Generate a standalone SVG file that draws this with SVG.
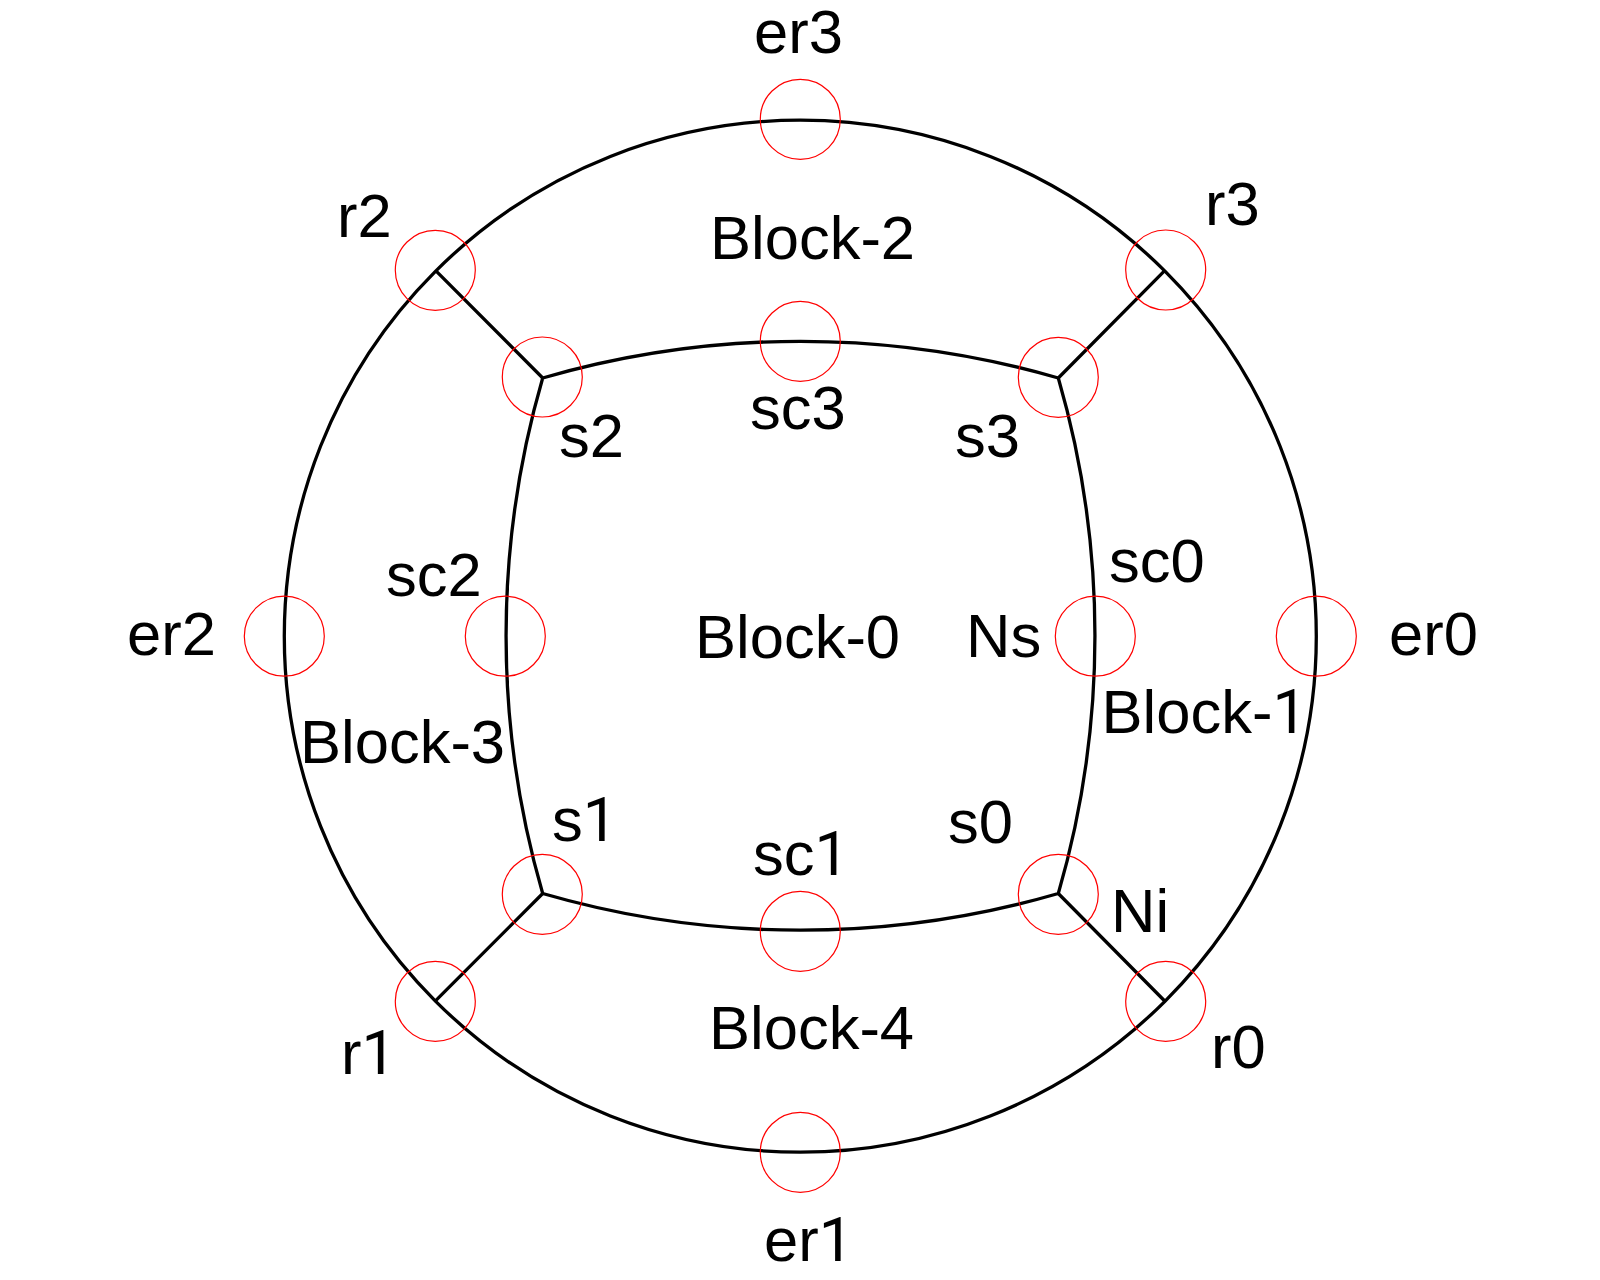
<svg xmlns="http://www.w3.org/2000/svg" width="1600" height="1280" viewBox="0 0 1600 1280">
<style>
.l{fill:none;stroke:#000;stroke-width:3.300}
.c{fill:none;stroke:#f00;stroke-width:1.200}
text{font-family:"Liberation Sans",Arial,sans-serif;font-size:61.500px;fill:#000}
.n{font-family:Roboto,"Liberation Sans",sans-serif}
</style>
<rect width="1600" height="1280" fill="#fff"/>
<g id="connectors">
<circle class="l" cx="800.300" cy="636.200" r="516"/>
<path class="l" d="M542.700 378A924 924 0 0 1 1058.300 378A925 925 0 0 1 1058.300 893.500A924 924 0 0 1 542.700 893.500A925 925 0 0 1 542.700 378Z"/>
<path class="l" d="M542.700 378L435.700 270.700M1058.300 378L1164.700 270.700M1058.300 893.500L1164.700 1001M542.700 893.500L435.700 1000.700"/>
</g>
<g id="er3"><circle class="c" cx="800.300" cy="119.300" r="40"/><text x="754" y="53">er3</text></g>
<g id="er0"><circle class="c" cx="1316.300" cy="636.200" r="40"/><text x="1389" y="655">er0</text></g>
<g id="er1"><circle class="c" cx="800.300" cy="1152.300" r="40"/><text x="764" y="1261">er<tspan class="n">1</tspan></text></g>
<g id="er2"><circle class="c" cx="284.300" cy="636.200" r="40"/><text x="127" y="655">er2</text></g>
<g id="r2"><circle class="c" cx="435.300" cy="270.300" r="40"/><text x="337" y="237">r2</text></g>
<g id="r3"><circle class="c" cx="1165.700" cy="270" r="40"/><text x="1205" y="225">r3</text></g>
<g id="r0"><circle class="c" cx="1165.700" cy="1001.300" r="40"/><text x="1211" y="1068.300">r0</text></g>
<g id="r1"><circle class="c" cx="435.300" cy="1001.300" r="40"/><text x="341" y="1073.500">r<tspan class="n">1</tspan></text></g>
<g id="s2"><circle class="c" cx="542.300" cy="377" r="40"/><text x="559" y="457">s2</text></g>
<g id="s3"><circle class="c" cx="1058.300" cy="377.300" r="40"/><text x="955" y="457">s3</text></g>
<g id="s0"><circle class="c" cx="1058.300" cy="894.300" r="40"/><text x="948" y="843">s0</text></g>
<g id="s1"><circle class="c" cx="542.300" cy="894.300" r="40"/><text x="552" y="841">s<tspan class="n">1</tspan></text></g>
<g id="sc3"><circle class="c" cx="800.300" cy="341.300" r="40"/><text x="750" y="429">sc3</text></g>
<g id="sc0"><circle class="c" cx="1095.300" cy="636.200" r="40"/><text x="1109" y="582">sc0</text></g>
<g id="sc1"><circle class="c" cx="800.300" cy="931.300" r="40"/><text x="753" y="875">sc<tspan class="n">1</tspan></text></g>
<g id="sc2"><circle class="c" cx="505.300" cy="636.200" r="40"/><text x="386" y="596">sc2</text></g>
<g id="block-0"><text x="695" y="657.500">Block-0</text></g>
<g id="block-1"><text x="1101.500" y="733.300">Block-<tspan class="n">1</tspan></text></g>
<g id="block-2"><text x="710" y="258.500">Block-2</text></g>
<g id="block-3"><text x="300" y="762.500">Block-3</text></g>
<g id="block-4"><text x="709" y="1048.500">Block-4</text></g>
<g id="ns"><text x="966" y="656.500">Ns</text></g>
<g id="ni"><text x="1111" y="931.500">Ni</text></g>
</svg>
